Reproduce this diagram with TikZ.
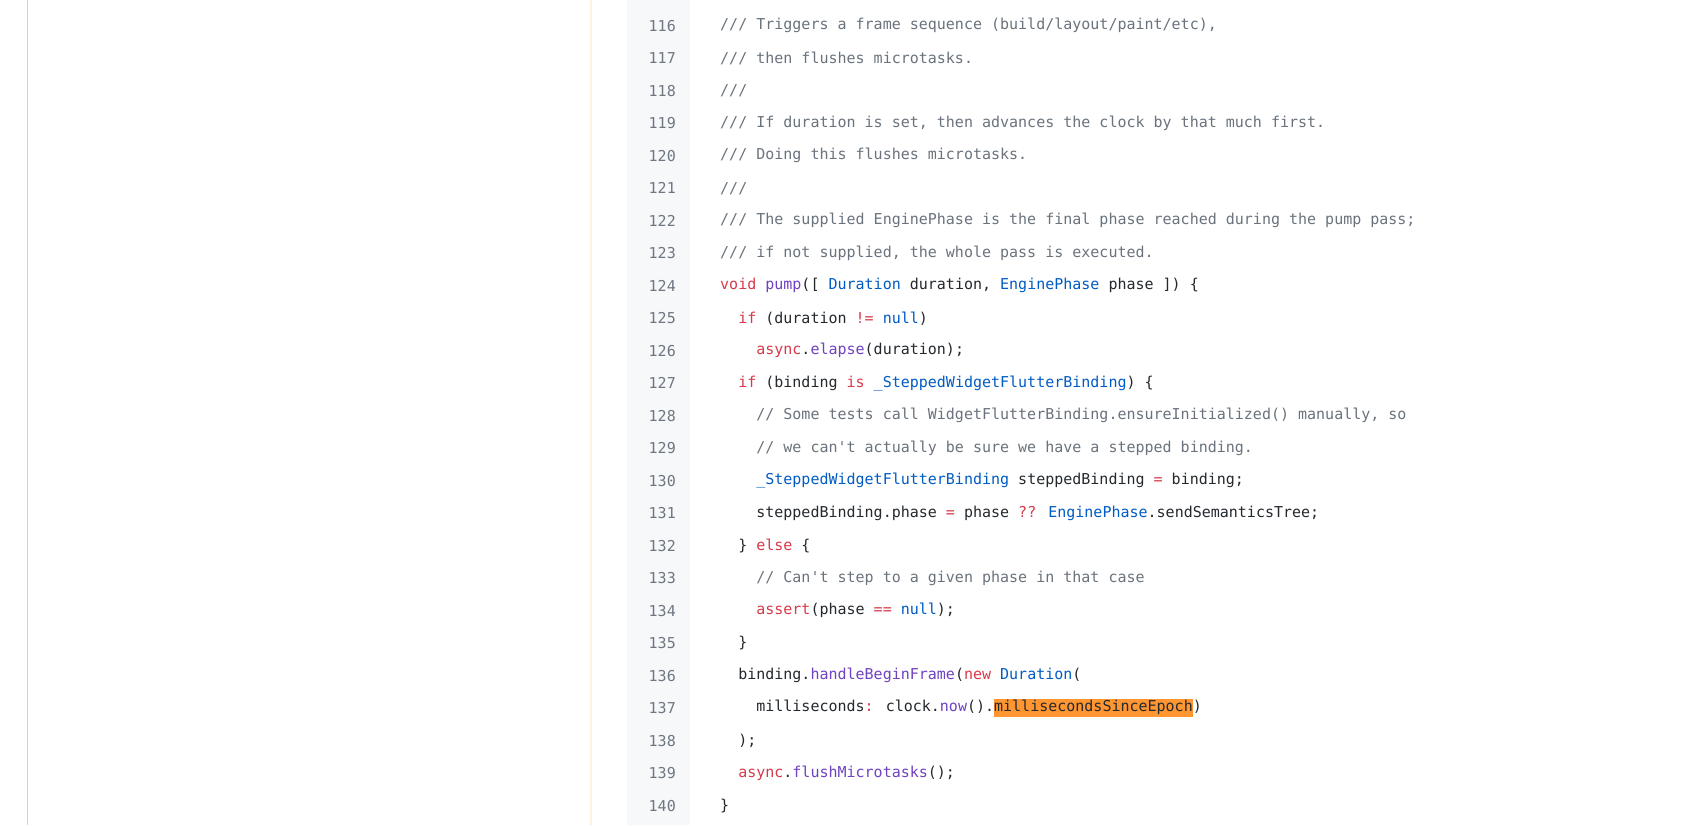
\documentclass[tikz,border=0pt]{standalone}
\usepackage{fontspec}
\newfontfamily\code{DejaVu Sans Mono}
\definecolor{cmt}{HTML}{6A737D}
\definecolor{kwc}{HTML}{D73A49}
\definecolor{tyc}{HTML}{005CC5}
\definecolor{fnc}{HTML}{6F42C1}
\definecolor{txt}{HTML}{24292E}
\definecolor{hlc}{HTML}{FF9632}
\definecolor{gut}{HTML}{F6F8FA}
\definecolor{lnum}{HTML}{6E7781}
\newcommand\Cm[1]{\textcolor{cmt}{#1}}
\newcommand\Kw[1]{\textcolor{kwc}{#1}}
\newcommand\Ty[1]{\textcolor{tyc}{#1}}
\newcommand\Fn[1]{\textcolor{fnc}{#1}}
\newcommand\Hl[1]{{\setlength\fboxsep{0pt}\colorbox{hlc}{\strut #1}}}
\newcommand\Ind[1]{\hspace*{#1\dimexpr 9.03pt\relax}}
\newcommand\CodeLine[3]{\node[codeline] (l#1) at (720,25.8+32.5*#2) {#3};}
\tikzset{codeline/.style={anchor=west,inner sep=0pt,font=\code\fontsize{15}{18}\selectfont,text=txt},
 lnumber/.style={anchor=east,inner sep=0pt,font=\code\fontsize{15}{18}\selectfont,text=lnum}}
\begin{document}
\begin{tikzpicture}[x=1pt,y=-1pt]
\useasboundingbox (0,0) rectangle (1688,825);
\fill[white] (0,0) rectangle (1688,825);
\draw[gray!35,line width=1pt] (27,0) -- (27,825);
\draw[orange!12,line width=2pt] (591,0) -- (591,825);
\fill[gut] (627,0) rectangle (690,825);
\foreach \n [count=\i from 0] in {116,...,140}{
  \node[lnumber] (n\n) at (676,25.8+32.5*\i) {\n};
}
\CodeLine{116}{0}{\Cm{/// Triggers a frame sequence (build/layout/paint/etc),}}
\CodeLine{117}{1}{\Cm{/// then flushes microtasks.}}
\CodeLine{118}{2}{\Cm{///}}
\CodeLine{119}{3}{\Cm{/// If duration is set, then advances the clock by that much first.}}
\CodeLine{120}{4}{\Cm{/// Doing this flushes microtasks.}}
\CodeLine{121}{5}{\Cm{///}}
\CodeLine{122}{6}{\Cm{/// The supplied EnginePhase is the final phase reached during the pump pass;}}
\CodeLine{123}{7}{\Cm{/// if not supplied, the whole pass is executed.}}
\CodeLine{124}{8}{\Kw{void} \Fn{pump}([ \Ty{Duration} duration, \Ty{EnginePhase} phase ]) \{}
\CodeLine{125}{9}{\Ind{2}\Kw{if} (duration \Kw{!=} \Ty{null})}
\CodeLine{126}{10}{\Ind{4}\Kw{async}.\Fn{elapse}(duration);}
\CodeLine{127}{11}{\Ind{2}\Kw{if} (binding \Kw{is} \Ty{\_SteppedWidgetFlutterBinding}) \{}
\CodeLine{128}{12}{\Ind{4}\Cm{// Some tests call WidgetFlutterBinding.ensureInitialized() manually, so}}
\CodeLine{129}{13}{\Ind{4}\Cm{// we can't actually be sure we have a stepped binding.}}
\CodeLine{130}{14}{\Ind{4}\Ty{\_SteppedWidgetFlutterBinding} steppedBinding \Kw{=} binding;}
\CodeLine{131}{15}{\Ind{4}steppedBinding.phase \Kw{=} phase \Kw{??} \Ty{EnginePhase}.sendSemanticsTree;}
\CodeLine{132}{16}{\Ind{2}\} \Kw{else} \{}
\CodeLine{133}{17}{\Ind{4}\Cm{// Can't step to a given phase in that case}}
\CodeLine{134}{18}{\Ind{4}\Kw{assert}(phase \Kw{==} \Ty{null});}
\CodeLine{135}{19}{\Ind{2}\}}
\CodeLine{136}{20}{\Ind{2}binding.\Fn{handleBeginFrame}(\Kw{new} \Ty{Duration}(}
\CodeLine{137}{21}{\Ind{4}milliseconds\Kw{:} clock.\Fn{now}().\Hl{millisecondsSinceEpoch})}
\CodeLine{138}{22}{\Ind{2});}
\CodeLine{139}{23}{\Ind{2}\Kw{async}.\Fn{flushMicrotasks}();}
\CodeLine{140}{24}{\}}
\end{tikzpicture}
\end{document}
